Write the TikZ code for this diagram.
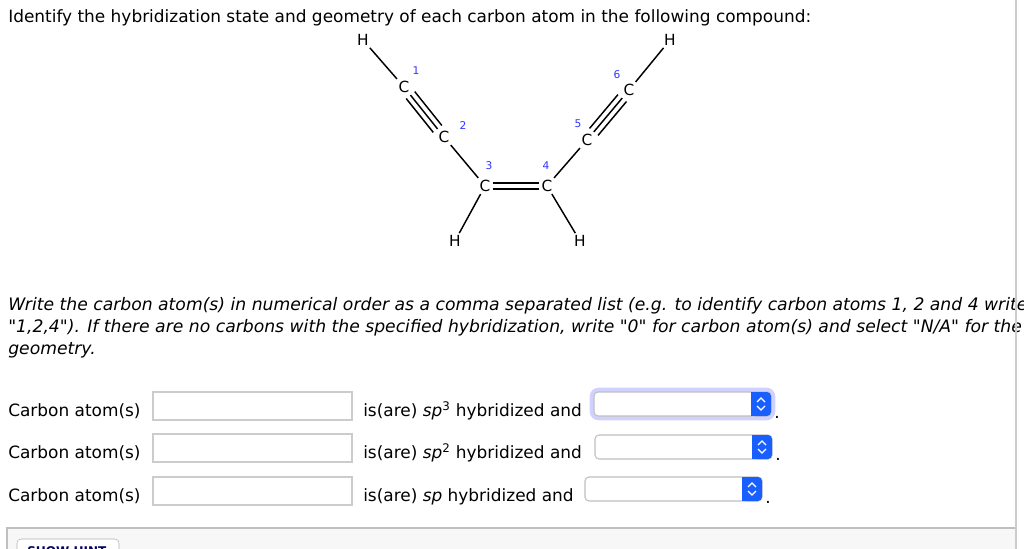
\documentclass[tikz,border=0pt]{standalone}
\usepackage{fontspec}
\setmainfont{DejaVu Sans}
\begin{document}
\begin{tikzpicture}[x=0.75pt,y=-0.75pt,
  atom/.style={inner sep=1.5pt,font=\fontsize{11.5}{12}\selectfont},
  num/.style={inner sep=0pt,text=blue!80!white,font=\fontsize{8}{8}\selectfont},
  txt/.style={anchor=base west,inner sep=0pt,font=\fontsize{12.7}{14}\selectfont},
  itx/.style={anchor=base west,inner sep=0pt,font=\fontsize{12.9}{14}\selectfont\itshape},
  inbox/.style={draw=black!20,fill=white,line width=0.8pt},
  sel/.style={draw=black!25,fill=white,rounded corners=3pt,line width=0.8pt},
  bond/.style={line width=1.1pt}]
\useasboundingbox (0,0) rectangle (1024,549);
\clip (0,0) rectangle (1024,549);
\node[txt] (title) at (8,23) {Identify the hybridization state and geometry of each carbon atom in the following compound:};
% molecule
\node[atom] (h1) at (363,40) {H};
\node[atom] (c1) at (404,87) {C};
\node[atom] (c2) at (444,137) {C};
\node[atom] (c3) at (485,186) {C};
\node[atom] (c4) at (547,186) {C};
\node[atom] (c5) at (587,140) {C};
\node[atom] (c6) at (629,90) {C};
\node[atom] (h6) at (670,40) {H};
\node[atom] (h3) at (455,241) {H};
\node[atom] (h4) at (580,241) {H};
\node[num] (n1) at (416,71) {1};
\node[num] (n2) at (463,126) {2};
\node[num] (n3) at (489,166) {3};
\node[num] (n4) at (546,166) {4};
\node[num] (n5) at (578,124) {5};
\node[num] (n6) at (617,75) {6};
\draw[bond] (h1) -- (c1);
\draw[bond] (c1) -- (c2);
\draw[bond,transform canvas={shift={(3.2pt,2.6pt)}}] (c1) -- (c2);
\draw[bond,transform canvas={shift={(-3.2pt,-2.6pt)}}] (c1) -- (c2);
\draw[bond] (c2) -- (c3);
\draw[bond,transform canvas={yshift=2.2pt}] (c3) -- (c4);
\draw[bond,transform canvas={yshift=-2.2pt}] (c3) -- (c4);
\draw[bond] (c4) -- (c5);
\draw[bond] (c5) -- (c6);
\draw[bond,transform canvas={shift={(3.2pt,-2.6pt)}}] (c5) -- (c6);
\draw[bond,transform canvas={shift={(-3.2pt,2.6pt)}}] (c5) -- (c6);
\draw[bond] (c6) -- (h6);
\draw[bond] (c3) -- (h3);
\draw[bond] (c4) -- (h4);
% instructions
\node[itx] (p1) at (8,310) {Write the carbon atom(s) in numerical order as a comma separated list (e.g. to identify carbon atoms 1, 2 and 4 write};
\node[itx] (p2) at (8,332) {\textquotedbl 1,2,4\textquotedbl). If there are no carbons with the specified hybridization, write \textquotedbl 0\textquotedbl\ for carbon atom(s) and select \textquotedbl N/A\textquotedbl\ for the};
\node[itx] (p3) at (8,354) {geometry.};
% rows
\foreach \y/\hyb/\sx in {416/{\textit{sp}\textsuperscript{3}}/594, 458/{\textit{sp}\textsuperscript{2}}/595, 501/{\textit{sp}}/585}{
  \node[txt] at (8,\y) {Carbon atom(s)};
  \draw[inbox] (153,\y-24) rectangle (352,\y+4);
  \node[txt] at (363,\y) {is(are) \hyb\ hybridized and};
  \node[txt] at (\sx+180,\y+2) {.};
}
\draw[blue!18,line width=3.5pt,rounded corners=5pt] (592,390) rectangle (773,418);
\foreach \sx/\sy in {594/392, 595/435, 585/477}{
  \draw[sel] (\sx,\sy) rectangle (\sx+177,\sy+24);
  \fill[blue!70!cyan!90!white,rounded corners=3pt] (\sx+157,\sy) rectangle (\sx+177,\sy+24);
  \fill[blue!70!cyan!90!white] (\sx+157,\sy) rectangle (\sx+163,\sy+24);
  \draw[white,line width=1pt] (\sx+163,\sy+10) -- (\sx+167,\sy+6) -- (\sx+171,\sy+10);
  \draw[white,line width=1pt] (\sx+163,\sy+14) -- (\sx+167,\sy+18) -- (\sx+171,\sy+14);
}
% bottom bar
\fill[black!3] (7,528) rectangle (1016,549);
\draw[black!25,line width=0.8pt] (7,549) -- (7,528) -- (1016,528);
\draw[black!20,line width=0.8pt] (1016,0) -- (1016,549);
\draw[black!30,fill=white,rounded corners=3pt] (17,539) rectangle (119,560);
\node[anchor=base west,inner sep=0pt,font=\fontsize{9}{10}\selectfont\bfseries,text=blue!40!black] (hint) at (27,555) {SHOW HINT};
\end{tikzpicture}
\end{document}
